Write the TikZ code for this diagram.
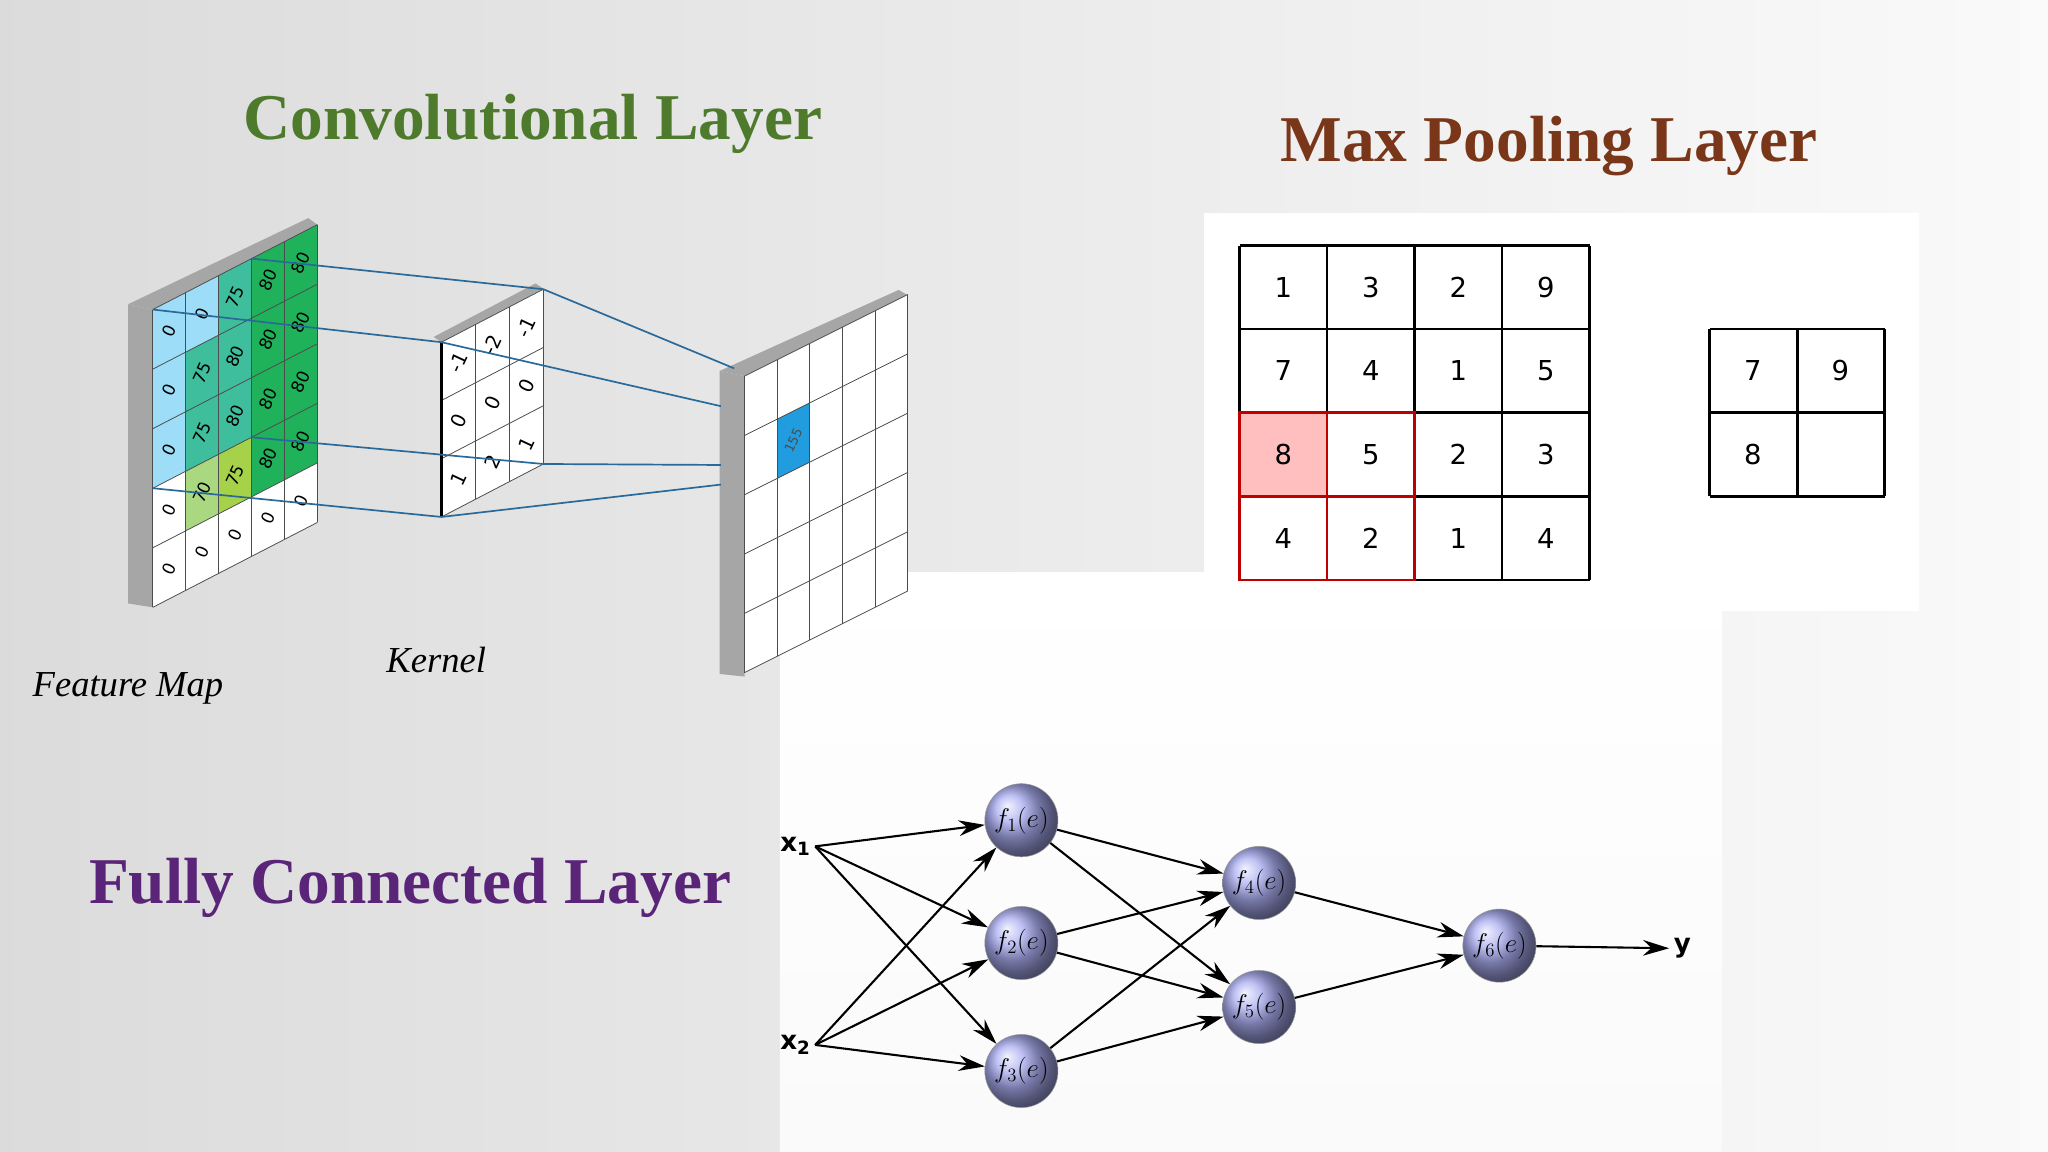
\documentclass[tikz,border=0pt]{standalone}
\usepackage{fontspec}
\setmainfont{Liberation Serif}
\newfontfamily\digits{DejaVu Sans}
\usetikzlibrary{arrows.meta,shadings}

\definecolor{convgreen}{HTML}{4E7A2C}
\definecolor{poolbrown}{HTML}{7A3618}
\definecolor{fcpurple}{HTML}{5A2478}
\definecolor{lb}{HTML}{9EDDF7}
\definecolor{tl}{HTML}{3EBE9C}
\definecolor{gr}{HTML}{1FB25A}
\definecolor{lg}{HTML}{A9D880}
\definecolor{yg}{HTML}{A6D24A}
\definecolor{linkblue}{HTML}{2A6A9A}
\definecolor{neuron}{HTML}{A9ACF0}

\tikzset{
  title/.style={font=\fontsize{50}{56}\selectfont\bfseries},
  side/.style={fill=black!35, draw=none},
  cell/.style={draw=black!70, line width=0.6pt},
  link/.style={draw=linkblue, line width=1.3pt},
  pool/.style={draw=black, line width=2pt},
  num/.style={font=\digits\fontsize{21}{24}\selectfont},
  unit/.style={circle, minimum size=56pt, inner sep=0pt, ball color=neuron,
               draw=black!40, font=\fontsize{21}{22}\selectfont},
  conn/.style={-{Stealth[length=20pt,width=12pt]}, line width=1.6pt}
}

\begin{document}
\begin{tikzpicture}[x=1pt, y=-1pt]

  % background
  \shade[left color=black!14, right color=black!2] (0,0) rectangle (1568,882);
  \shade[top color=white, bottom color=black!2] (597,438) rectangle (1318,882);
  \fill[white] (922,163) rectangle (1469,468);

  % titles
  \node[title, text=convgreen] (convt) at (408,95) {Convolutional Layer};
  \node[title, text=poolbrown] (poolt) at (1186,112) {Max Pooling Layer};
  \node[title, text=fcpurple] (fct) at (314,680) {Fully Connected Layer};

  % feature map
  \fill[side] (117,237) -- (117,465) -- (98,462) -- (98,233) -- cycle;
  \fill[side] (98,233) -- (117,237) -- (243,172) -- (236,167) -- cycle;
  \begin{scope}[shift={(117,237)}, x=25.2pt, y=-45.6pt, yslant=0.516]
    \foreach \r/\row in {1/{lb/0,lb/0,tl/75,gr/80,gr/80},
                         2/{lb/0,tl/75,tl/80,gr/80,gr/80},
                         3/{lb/0,tl/75,tl/80,gr/80,gr/80},
                         4/{white/0,lg/70,yg/75,gr/80,gr/80},
                         5/{white/0,white/0,white/0,white/0,white/0}}
      \foreach \col/\v [count=\c] in \row {
        \fill[\col] (\c-1,\r-1) rectangle (\c,\r);
        \node[font=\digits\fontsize{13}{14}\selectfont, rotate=65, inner sep=0pt]
          (fm-\r-\c) at (\c-0.5,\r-0.5) {\v};
      }
    \foreach \i in {0,...,5} {
      \draw[cell] (\i,0) -- (\i,5);
      \draw[cell] (0,\i) -- (5,\i);
    }
    \coordinate (fA) at (3,0);
    \coordinate (fB) at (0,0);
    \coordinate (fC) at (3,3);
    \coordinate (fD) at (0,3);
  \end{scope}

  % kernel
  \fill[side] (338,262) -- (332,258) -- (410,217) -- (416,221) -- cycle;
  \begin{scope}[shift={(338,262)}, x=26pt, y=-44.6pt, yslant=0.52]
    \fill[white] (0,0) rectangle (3,3);
    \foreach \i in {0,...,3} {
      \draw[cell] (\i,0) -- (\i,3);
      \draw[cell] (0,\i) -- (3,\i);
    }
    \draw[line width=3pt] (0,0) -- (0,3);
    \foreach \r/\row in {1/{-1,-2,-1}, 2/{0,0,0}, 3/{1,2,1}}
      \foreach \v [count=\c] in \row
        \node[font=\digits\fontsize{15}{16}\selectfont, rotate=65, inner sep=0pt]
          (k-\r-\c) at (\c-0.5,\r-0.5) {\v};
    \coordinate (kA) at (3,0);
    \coordinate (kB) at (0,0);
    \coordinate (kC) at (3,3);
    \coordinate (kD) at (0,3);
  \end{scope}

  % output
  \fill[side] (570,288) -- (570,518) -- (551,516) -- (551,284) -- cycle;
  \fill[side] (551,284) -- (570,288) -- (695,226) -- (688,222) -- cycle;
  \begin{scope}[shift={(570,288)}, x=25pt, y=-45.4pt, yslant=0.5]
    \fill[white] (0,0) rectangle (5,5);
    \fill[cyan!80!blue!90] (1,1) rectangle (2,2);
    \node[font=\digits\fontsize{10}{12}\selectfont, rotate=65, text=black!70]
      (out) at (1.5,1.5) {155};
    \foreach \i in {0,...,5} {
      \draw[cell] (\i,0) -- (\i,5);
      \draw[cell] (0,\i) -- (5,\i);
    }
  \end{scope}
  \coordinate (oA) at (562,282);
  \coordinate (oB) at (552,311);
  \coordinate (oC) at (552,356);
  \coordinate (oD) at (552,371);

  \draw[link] (fA) -- (kA) -- (oA);
  \draw[link] (fB) -- (kB) -- (oB);
  \draw[link] (fC) -- (kC) -- (oC);
  \draw[link] (fD) -- (kD) -- (oD);

  \node[font=\fontsize{28}{30}\selectfont\itshape] (fmlab) at (98,527) {Feature Map};
  \node[font=\fontsize{28}{30}\selectfont\itshape] (klab) at (334,505) {Kernel};

  % max pooling
  \fill[red!25] (949,316) rectangle (1016,380);
  \foreach \r/\row in {1/{1,3,2,9}, 2/{7,4,1,5}, 3/{8,5,2,3}, 4/{4,2,1,4}}
    \foreach \v [count=\c] in \row
      \node[num] (p-\r-\c) at (949+67*\c-33.5, 188+64*\r-32) {\v};
  \foreach \i in {0,...,4} {
    \draw[pool] (949+67*\i,188) -- (949+67*\i,444);
    \draw[pool] (949,188+64*\i) -- (1217,188+64*\i);
  }
  \draw[draw=red!75!black, line width=2pt] (949,316) rectangle (1083,444);
  \draw[draw=red!75!black, line width=2pt] (1016,316) -- (1016,444);
  \draw[draw=red!75!black, line width=2pt] (949,380) -- (1083,380);
  \node[num] (q-1-1) at (1342,284) {7};
  \node[num] (q-1-2) at (1409,284) {9};
  \node[num] (q-2-1) at (1342,348) {8};
  \foreach \i in {0,...,2} {
    \draw[pool] (1309+67*\i,252) -- (1309+67*\i,380);
    \draw[pool] (1309,252+64*\i) -- (1443,252+64*\i);
  }

  % fully connected
  \node[font=\digits\bfseries\fontsize{20}{22}\selectfont] (x1) at (609,648) {x\textsubscript{1}};
  \node[font=\digits\bfseries\fontsize{20}{22}\selectfont] (x2) at (609,800) {x\textsubscript{2}};
  \node[unit] (f1) at (782,628) {$f_1(e)$};
  \node[unit] (f2) at (782,722) {$f_2(e)$};
  \node[unit] (f3) at (782,820) {$f_3(e)$};
  \node[unit] (f4) at (964,676) {$f_4(e)$};
  \node[unit] (f5) at (964,771) {$f_5(e)$};
  \node[unit] (f6) at (1148,724) {$f_6(e)$};
  \node[font=\digits\bfseries\fontsize{20}{22}\selectfont] (y) at (1288,726) {y};

  \foreach \s in {x1,x2}
    \foreach \t in {f1,f2,f3}
      \draw[conn] (\s.east) -- (\t);
  \foreach \s in {f1,f2,f3}
    \foreach \t in {f4,f5}
      \draw[conn] (\s) -- (\t);
  \draw[conn] (f4) -- (f6);
  \draw[conn] (f5) -- (f6);
  \draw[conn] (f6) -- (y.west);

\end{tikzpicture}
\end{document}
